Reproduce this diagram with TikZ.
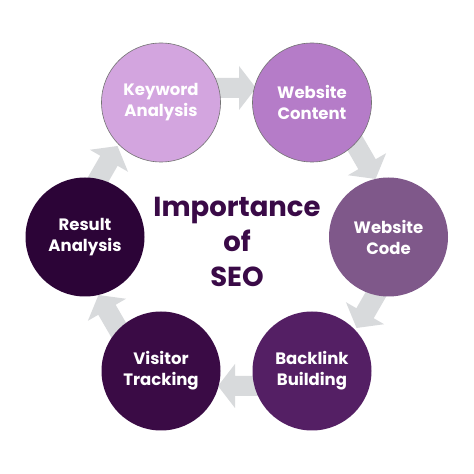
\documentclass[tikz,border=0pt]{standalone}
\usepackage{fontspec}
\setmainfont{Poppins}
\usetikzlibrary{calc}
\definecolor{ckey}{HTML}{D3A5DF}
\definecolor{ccont}{HTML}{B57CC8}
\definecolor{ccode}{HTML}{7F588A}
\definecolor{cback}{HTML}{541F64}
\definecolor{cvis}{HTML}{3A0B45}
\definecolor{cres}{HTML}{2C0437}
\definecolor{ctitle}{HTML}{3A0A47}
\definecolor{carrow}{HTML}{D8DADC}
\tikzset{
  stage/.style={circle, minimum size=119pt, inner sep=0pt, align=center,
    text=white, font=\bfseries\fontsize{16.5}{21}\selectfont},
  outlined/.style={draw=black!55, line width=0.6pt},
  blockarrow/.style={fill=carrow, draw=none},
}
\newcommand{\cyclearrow}[2]{%
  \begin{scope}[shift={(#1)}, rotate=#2]
    \fill[blockarrow] (-30,-10) -- (2,-10) -- (2,-22) -- (19,0) -- (2,22) -- (2,10) -- (-30,10) -- cycle;
  \end{scope}}
\begin{document}
\begin{tikzpicture}[x=1pt,y=1pt]
\useasboundingbox (0,0) rectangle (474,474);
\fill[white] (0,0) rectangle (474,474);
\coordinate (o) at (237,237);
% arrows (behind circles)
\foreach \a in {90,30,-30,-90,-150,150}{
  \pgfmathsetmacro{\r}{\a-90}
  \cyclearrow{$(o)+(\a:149)$}{\r}
}
\node[stage, outlined, fill=ckey] (key) at (161,371.5) {Keyword\\Analysis};
\node[stage, outlined, fill=ccont] (cont) at (312,371.5) {Website\\Content};
\node[stage, fill=ccode] (code) at (388.5,237) {Website\\Code};
\node[stage, fill=cback] (back) at (312,103) {Backlink\\Building};
\node[stage, fill=cvis] (vis) at (161,103) {Visitor\\Tracking};
\node[stage, fill=cres] (res) at (85,237) {Result\\Analysis};
\node[align=center, text=ctitle, font=\bfseries\fontsize{27.5}{35}\selectfont] (title) at (237,232) {Importance\\of\\SEO};
\end{tikzpicture}
\end{document}
